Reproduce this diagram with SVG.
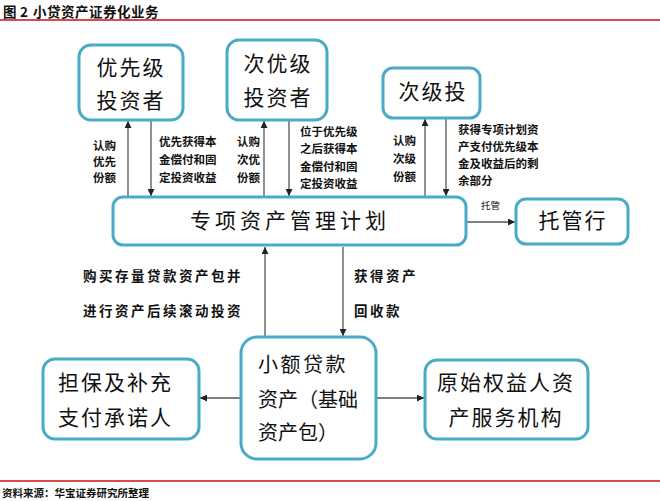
<svg xmlns="http://www.w3.org/2000/svg" width="660" height="501" viewBox="0 0 660 501">
<defs>
<marker id="ah" viewBox="0 0 10 10" refX="10" refY="5" markerWidth="7" markerHeight="7" markerUnits="userSpaceOnUse" orient="auto"><path d="M0,0 L10,5 L0,10 z" fill="#222"/></marker>
<style>
.box{fill:#fff;stroke:#4aabc7;stroke-width:3}
.bt{font-family:"Liberation Serif","Noto Sans CJK SC",serif;font-size:21px;fill:#111;letter-spacing:2px;dominant-baseline:central}
.lb{font-family:"Noto Sans CJK SC",sans-serif;font-size:11.5px;font-weight:bold;fill:#111;dominant-baseline:central}
.lb2{font-family:"Noto Sans CJK SC",sans-serif;font-size:13.5px;font-weight:bold;fill:#111;letter-spacing:2.5px;dominant-baseline:central}
.cn{stroke:#555;stroke-width:1.3;fill:none;marker-end:url(#ah)}
.tt{font-family:"Noto Sans CJK SC",sans-serif;font-size:13.5px;font-weight:bold;fill:#111;dominant-baseline:central}
</style>
</defs>
<rect width="660" height="501" fill="#fff"/>
<text class="tt" x="3" y="11">图</text>
<text class="tt" x="20" y="11" font-family="Liberation Sans,sans-serif" fill="#1f3a78">2</text>
<text class="tt" x="33" y="11" style="letter-spacing:0.5px">小贷资产证券化业务</text>
<line x1="0" y1="20" x2="660" y2="20" stroke="#cc1111" stroke-width="1.5"/>
<line x1="0" y1="481" x2="660" y2="481" stroke="#cc1111" stroke-width="1.5"/>
<text x="2" y="492" font-family="Noto Sans CJK SC,sans-serif" font-size="10.5" font-weight="bold" fill="#111" dominant-baseline="central">资料来源：华宝证券研究所整理</text>

<g id="connectors">
<line class="cn" x1="128" y1="197" x2="128" y2="121"/>
<line class="cn" x1="151" y1="121" x2="151" y2="196"/>
<line class="cn" x1="264" y1="197" x2="264" y2="121"/>
<line class="cn" x1="289" y1="121" x2="289" y2="196"/>
<line class="cn" x1="425" y1="197" x2="425" y2="119"/>
<line class="cn" x1="446" y1="119" x2="446" y2="196"/>
<line class="cn" x1="467" y1="222" x2="515" y2="222"/>
<line class="cn" x1="265" y1="337" x2="265" y2="247"/>
<line class="cn" x1="343" y1="247" x2="343" y2="336"/>
<line class="cn" x1="241" y1="398" x2="200" y2="398"/>
<line class="cn" x1="376" y1="398" x2="424" y2="398"/>
<text class="lb" x="93" y="145">认购</text>
<text class="lb" x="93" y="161">优先</text>
<text class="lb" x="93" y="177">份额</text>
<text class="lb" x="159" y="141">优先获得本</text>
<text class="lb" x="159" y="159">金偿付和固</text>
<text class="lb" x="159" y="177">定投资收益</text>
<text class="lb" x="237" y="141">认购</text>
<text class="lb" x="237" y="159">次优</text>
<text class="lb" x="237" y="177">份额</text>
<text class="lb" x="300" y="131">位于优先级</text>
<text class="lb" x="300" y="148">之后获得本</text>
<text class="lb" x="300" y="166">金偿付和固</text>
<text class="lb" x="300" y="183">定投资收益</text>
<text class="lb" x="393" y="140">认购</text>
<text class="lb" x="393" y="158">次级</text>
<text class="lb" x="393" y="176">份额</text>
<text class="lb" x="458" y="129">获得专项计划资</text>
<text class="lb" x="458" y="146">产支付优先级本</text>
<text class="lb" x="458" y="163">金及收益后的剩</text>
<text class="lb" x="458" y="180">余部分</text>
<text x="481" y="205" font-family="Noto Sans CJK SC,sans-serif" font-size="9.5" fill="#111" dominant-baseline="central">托管</text>
<text class="lb2" x="83" y="275">购买存量贷款资产包并</text>
<text class="lb2" x="83" y="310">进行资产后续滚动投资</text>
<text class="lb2" x="354" y="275">获得资产</text>
<text class="lb2" x="354" y="310">回收款</text>
</g>

<g id="n1"><rect class="box" x="79" y="45" width="104" height="75" rx="12"/>
<text class="bt" x="131" y="68" text-anchor="middle">优先级</text>
<text class="bt" x="131" y="101" text-anchor="middle">投资者</text></g>
<g id="n2"><rect class="box" x="227" y="40" width="100" height="80" rx="12"/>
<text class="bt" x="278" y="64" text-anchor="middle">次优级</text>
<text class="bt" x="278" y="98" text-anchor="middle">投资者</text></g>
<g id="n3"><rect class="box" x="383" y="68" width="97" height="50" rx="10"/>
<text class="bt" x="433" y="92" text-anchor="middle">次级投</text></g>
<g id="n4"><rect class="box" x="113" y="197" width="353" height="48" rx="10"/>
<text class="bt" x="290" y="221" text-anchor="middle" style="letter-spacing:4px">专项资产管理计划</text></g>
<g id="n5"><rect class="box" x="516" y="199" width="112" height="45" rx="10"/>
<text class="bt" x="573" y="221" text-anchor="middle">托管行</text></g>
<g id="n6"><rect class="box" x="241" y="337" width="135" height="122" rx="16"/>
<text class="bt" x="258" y="365" style="font-size:20px;letter-spacing:2.5px">小额贷款</text>
<text class="bt" x="258" y="400" style="font-size:20px;letter-spacing:0px">资产（基础</text>
<text class="bt" x="258" y="433" style="font-size:20px;letter-spacing:0px">资产包）</text></g>
<g id="n7"><rect class="box" x="43" y="359" width="156" height="80" rx="12"/>
<text class="bt" x="58" y="383">担保及补充</text>
<text class="bt" x="58" y="418">支付承诺人</text></g>
<g id="n8"><rect class="box" x="425" y="360" width="163" height="79" rx="12"/>
<text class="bt" x="506" y="383" text-anchor="middle">原始权益人资</text>
<text class="bt" x="506" y="418" text-anchor="middle">产服务机构</text></g>
</svg>
